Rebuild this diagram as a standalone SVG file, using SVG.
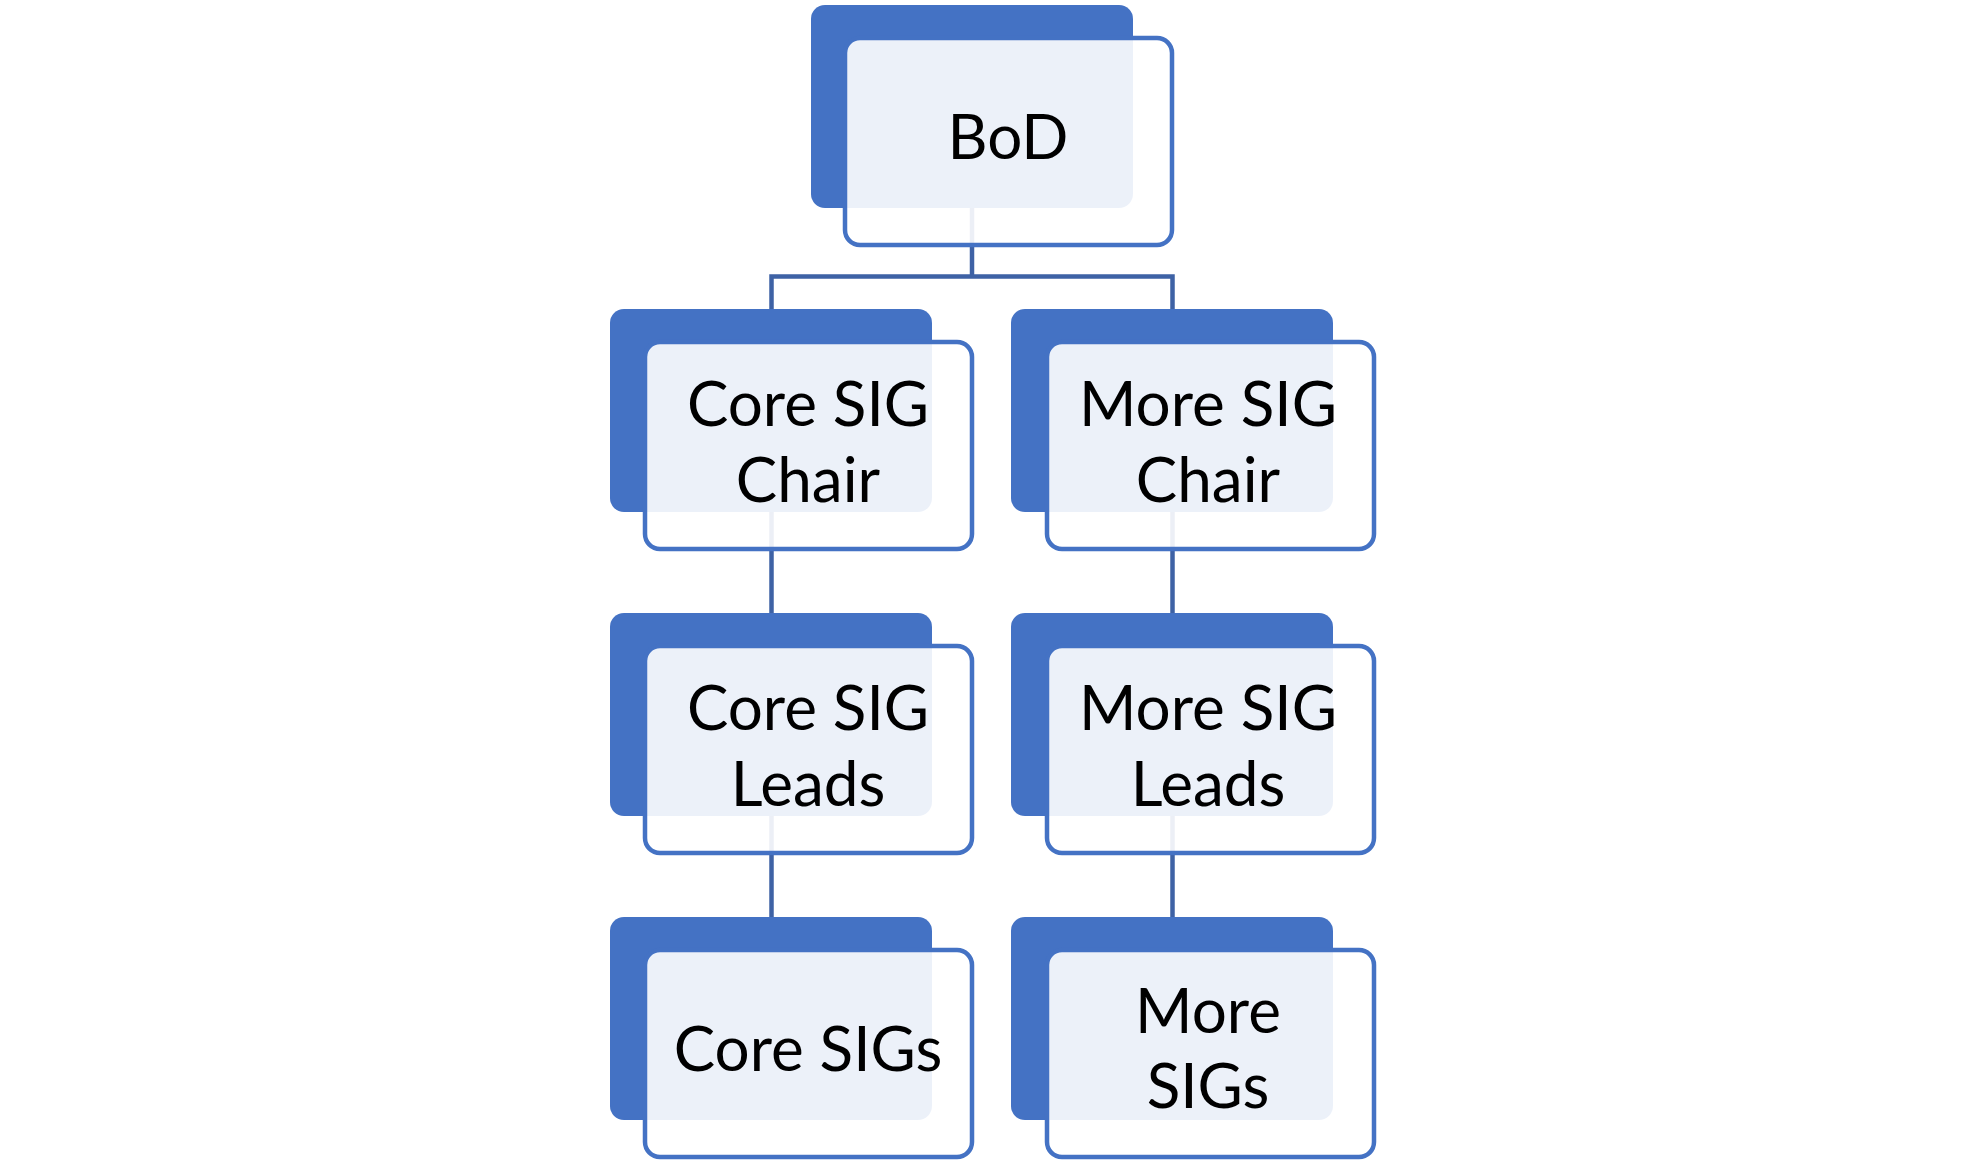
<svg xmlns="http://www.w3.org/2000/svg" width="1980" height="1172" viewBox="0 0 1980 1172">
<style>
.back{fill:#4472C4;}
.front{fill:#FFFFFF;fill-opacity:0.9;stroke:#4472C4;stroke-width:4.5;}
.conn{fill:none;stroke:#3E62A5;stroke-width:4.5;}
.lbl{font-family:Lato,"Liberation Sans",sans-serif;font-size:62px;fill:#000000;text-anchor:middle;}
</style>
<rect width="1980" height="1172" fill="#FFFFFF"/>
<g id="connectors">
<path class="conn" d="M972 208 V276.5"/>
<path class="conn" d="M771.5 309 V276.5 H1172.5 V309"/>
<path class="conn" d="M771.5 512 V613"/>
<path class="conn" d="M771.5 816 V917"/>
<path class="conn" d="M1172.5 512 V613"/>
<path class="conn" d="M1172.5 816 V917"/>
</g>
<g id="node-bod">
<rect class="back" x="811" y="5" width="322" height="203" rx="14"/>
<rect class="front" x="845" y="38" width="327" height="207" rx="15"/>
<text class="lbl" x="1008" y="159">BoD</text>
</g>
<g id="node-core-chair">
<rect class="back" x="610" y="309" width="322" height="203" rx="14"/>
<rect class="front" x="645" y="342" width="327" height="207" rx="15"/>
<text class="lbl" x="808" y="426">Core SIG</text>
<text class="lbl" x="808" y="502">Chair</text>
</g>
<g id="node-more-chair">
<rect class="back" x="1011" y="309" width="322" height="203" rx="14"/>
<rect class="front" x="1047" y="342" width="327" height="207" rx="15"/>
<text class="lbl" x="1208" y="426">More SIG</text>
<text class="lbl" x="1208" y="502">Chair</text>
</g>
<g id="node-core-leads">
<rect class="back" x="610" y="613" width="322" height="203" rx="14"/>
<rect class="front" x="645" y="646" width="327" height="207" rx="15"/>
<text class="lbl" x="808" y="730">Core SIG</text>
<text class="lbl" x="808" y="806">Leads</text>
</g>
<g id="node-more-leads">
<rect class="back" x="1011" y="613" width="322" height="203" rx="14"/>
<rect class="front" x="1047" y="646" width="327" height="207" rx="15"/>
<text class="lbl" x="1208" y="730">More SIG</text>
<text class="lbl" x="1208" y="806">Leads</text>
</g>
<g id="node-core-sigs">
<rect class="back" x="610" y="917" width="322" height="203" rx="14"/>
<rect class="front" x="645" y="950" width="327" height="207" rx="15"/>
<text class="lbl" x="808" y="1071">Core SIGs</text>
</g>
<g id="node-more-sigs">
<rect class="back" x="1011" y="917" width="322" height="203" rx="14"/>
<rect class="front" x="1047" y="950" width="327" height="207" rx="15"/>
<text class="lbl" x="1208" y="1033">More</text>
<text class="lbl" x="1208" y="1108">SIGs</text>
</g>
</svg>
